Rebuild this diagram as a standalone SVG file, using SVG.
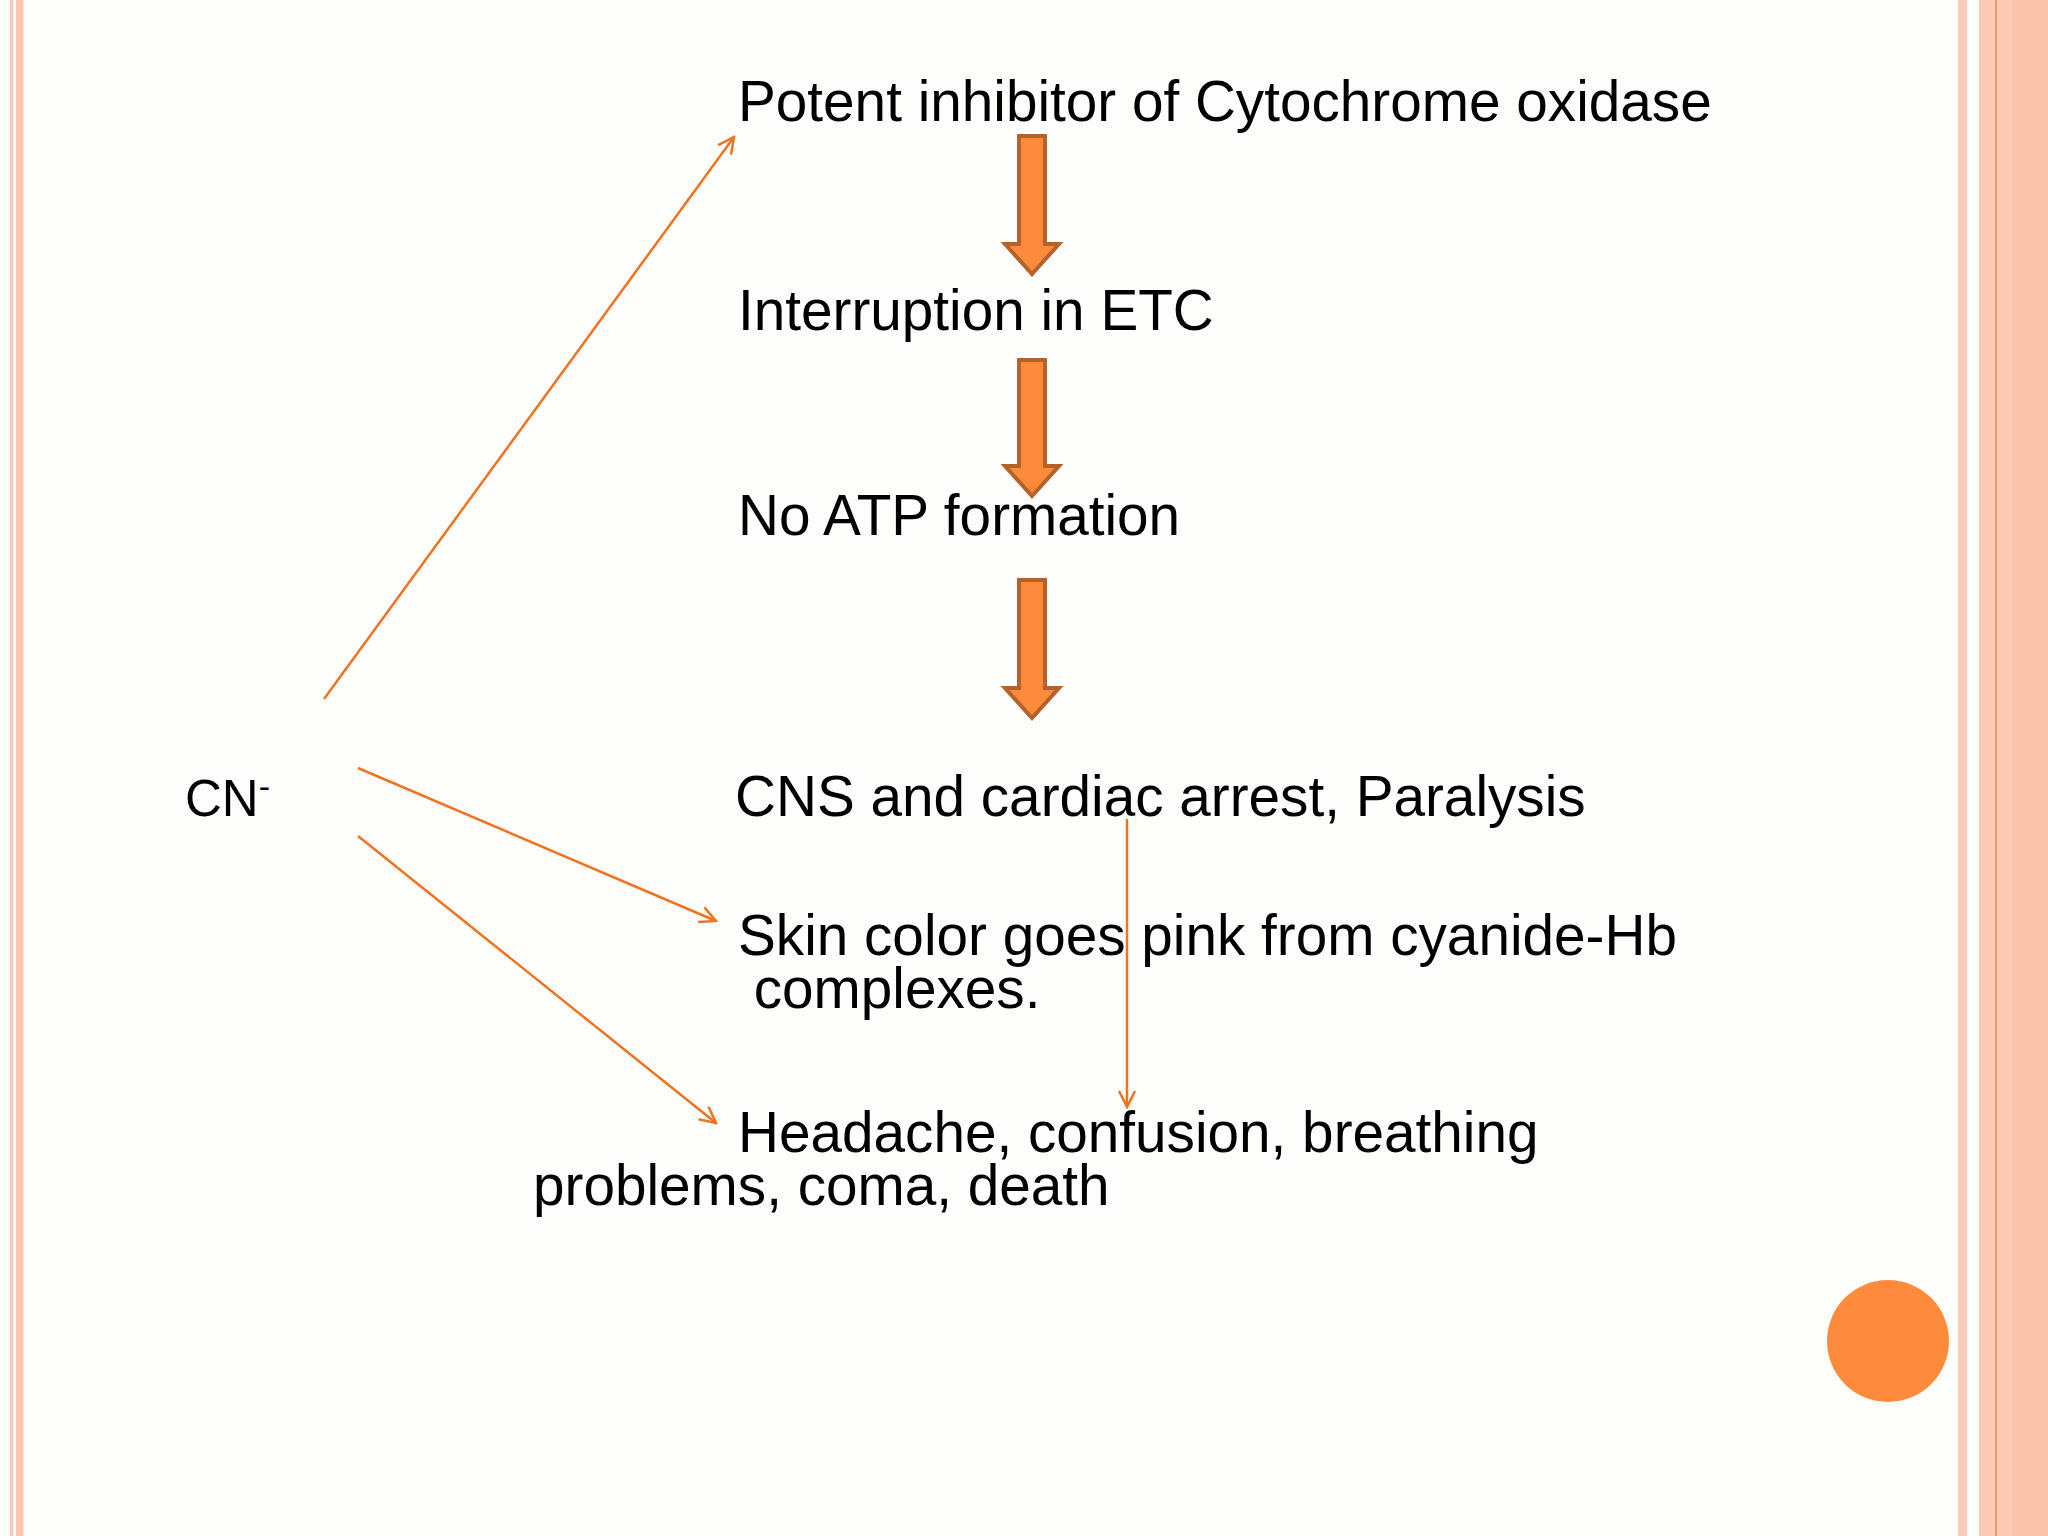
<svg xmlns="http://www.w3.org/2000/svg" width="2048" height="1536" viewBox="0 0 2048 1536">
<style>
.t{font-family:"Liberation Sans",Arial,sans-serif;font-size:56.7px;fill:#000}
.cn{font-family:"Liberation Sans",Arial,sans-serif;font-size:51px;fill:#000}
.con{stroke:#f07420;stroke-width:2.5;fill:none}
.blk{fill:#fd8b3c;stroke:#b5622a;stroke-width:4;stroke-linejoin:miter}
</style>
<defs>
<marker id="open" viewBox="0 0 20 20" refX="18" refY="10" markerWidth="20" markerHeight="20" markerUnits="userSpaceOnUse" orient="auto">
<path d="M2,2 L18,10 L2,18" fill="none" stroke="#f07420" stroke-width="2.5"/>
</marker>
</defs>
<rect width="2048" height="1536" fill="#fdfdfb"/>
<g id="border">
<rect x="10" y="0" width="3.5" height="1536" fill="#f8cbbd"/>
<rect x="16" y="0" width="7.5" height="1536" fill="#fdc5b0"/>
<rect x="1958" y="0" width="9" height="1536" fill="#fccab7"/>
<rect x="1979" y="0" width="69" height="1536" fill="#fdcab6"/>
<rect x="2012" y="0" width="36" height="1536" fill="#fbc2ac"/>
<rect x="1995" y="0" width="2" height="1536" fill="#f39a6a"/>
</g>
<g id="circle"><circle cx="1888" cy="1341" r="61" fill="#fe8a3b"/></g>
<g id="block-arrows">
<path class="blk" d="M1019,136 H1045 V244 H1059 L1032,274 L1005,244 H1019 Z"/>
<path class="blk" d="M1019,360 H1045 V466 H1059 L1032,496 L1005,466 H1019 Z"/>
<path class="blk" d="M1019,580 H1045 V688 H1059 L1032,718 L1005,688 H1019 Z"/>
</g>
<g id="connectors">
<line class="con" x1="324" y1="699" x2="734" y2="137" marker-end="url(#open)"/>
<line class="con" x1="358" y1="768" x2="716" y2="921" marker-end="url(#open)"/>
<line class="con" x1="358" y1="836" x2="716" y2="1123" marker-end="url(#open)"/>
<line class="con" x1="1127" y1="819" x2="1127" y2="1107" marker-end="url(#open)"/>
</g>
<g id="n-cn"><text class="cn" x="185" y="816">CN<tspan font-size="34" dy="-18">-</tspan></text></g>
<g id="n-potent"><text class="t" x="738" y="121">Potent inhibitor of Cytochrome oxidase</text></g>
<g id="n-etc"><text class="t" x="738" y="330">Interruption in ETC</text></g>
<g id="n-atp"><text class="t" x="738" y="535">No ATP formation</text></g>
<g id="n-cns"><text class="t" x="735" y="816">CNS and cardiac arrest, Paralysis</text></g>
<g id="n-skin"><text class="t" x="738" y="955">Skin color goes pink from cyanide-Hb</text><text class="t" x="738" y="1008" xml:space="preserve"> complexes.</text></g>
<g id="n-head"><text class="t" x="738" y="1152">Headache, confusion, breathing</text><text class="t" x="533" y="1205">problems, coma, death</text></g>
</svg>
